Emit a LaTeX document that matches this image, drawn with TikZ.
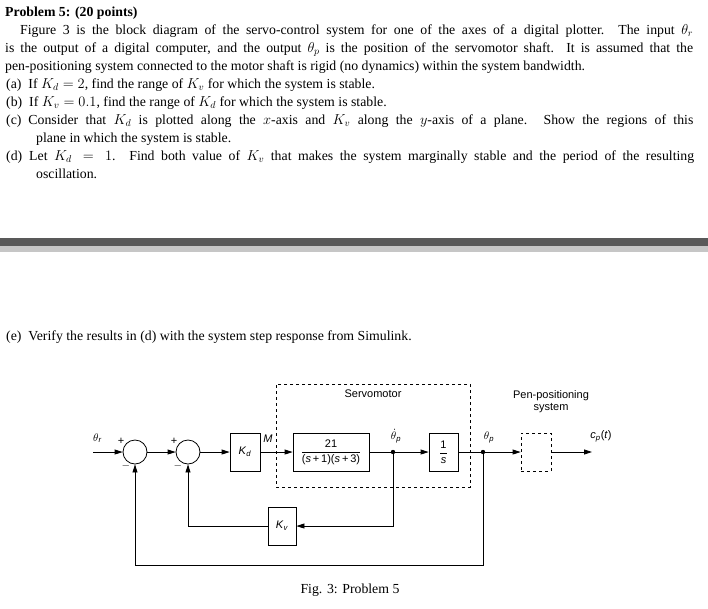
\documentclass[tikz,border=0pt]{standalone}
\usepackage{fontspec}
\setmainfont{Liberation Serif}
\setsansfont{Liberation Sans}
\usepackage{amsmath}
\usetikzlibrary{arrows.meta}
\newcommand{\vi}[1]{\textit{#1}}
\begin{document}
\begin{tikzpicture}[x=1pt,y=-1pt,
  txt/.style={anchor=base west,inner sep=0pt,font=\fontsize{13.8}{15}\selectfont},
  blk/.style={draw,line width=0.8pt,minimum width=#1,minimum height=38pt,inner sep=0pt,font=\sffamily\fontsize{11}{12}\selectfont},
  sumc/.style={draw,circle,line width=0.8pt,minimum size=24pt,inner sep=0pt},
  lab/.style={font=\sffamily\fontsize{11}{12}\selectfont,inner sep=1pt},
  sig/.style={line width=0.8pt,-{Triangle[length=8pt,width=5pt]}},
  ln/.style={line width=0.8pt},
  dbox/.style={draw,dashed,line width=0.8pt}]
\useasboundingbox (0,0) rectangle (708,608);
\fill[white] (0,0) rectangle (708,608);
% text
\node[txt] (t0) at (5,16) {\textbf{Problem 5: (20 points)}};
\node[txt] (t1) at (20,34) {\makebox[673pt][s]{Figure 3 is the block diagram of the servo-control system for one of the axes of a digital plotter. The input $\theta_r$}};
\node[txt] (t2) at (5,52) {\makebox[688pt][s]{is the output of a digital computer, and the output $\theta_p$ is the position of the servomotor shaft. It is assumed that the}};
\node[txt] (t3) at (5,70) {pen-positioning system connected to the motor shaft is rigid (no dynamics) within the system bandwidth.};
\node[txt] (t4) at (6,88) {(a)\enspace If $K_d=2$, find the range of $K_v$ for which the system is stable.};
\node[txt] (t5) at (6,106) {(b)\enspace If $K_v=0.1$, find the range of $K_d$ for which the system is stable.};
\node[txt] (t6) at (6,124) {(c)\enspace\makebox[665pt][s]{Consider that $K_d$ is plotted along the $x$-axis and $K_v$ along the $y$-axis of a plane. Show the regions of this}};
\node[txt] (t7) at (36,142) {plane in which the system is stable.};
\node[txt] (t8) at (6,160) {(d)\enspace\makebox[665pt][s]{Let $K_d=1$. Find both value of $K_v$ that makes the system marginally stable and the period of the resulting}};
\node[txt] (t9) at (36,178) {oscillation.};
\fill[gray!70!black] (0,238) rectangle (708,252);
\fill[gray!45] (0,246) rectangle (708,252);
\node[txt] (te) at (6,340) {(e)\enspace Verify the results in (d) with the system step response from Simulink.};
\node[txt,anchor=base] (cap) at (350,593) {Fig. 3: Problem 5};
% diagram
\node[dbox,minimum width=194pt,minimum height=103pt,inner sep=0pt] (servo) at (373,435.5) {};
\node[lab,anchor=north] (servol) at (373,389) {Servomotor};
\node[lab,align=center,anchor=north] (penl) at (551,389) {Pen-positioning\\[0pt]system};
\coordinate (in) at (93,452);
\node[lab,anchor=south west] (thr) at (92,444) {$\theta$\textsubscript{\vi{r}}};
\node[sumc] (s1) at (135,452) {};
\node[sumc] (s2) at (188,452) {};
\node[blk=30pt] (kd) at (245,452) {\vi{K}\textsubscript{\vi{d}}};
\node[blk=76pt] (g) at (331,452) {$\dfrac{\text{21}}{\text{(\vi{s}\,+\,1)(\vi{s}\,+\,3)}}$};
\node[blk=29pt] (int) at (443.5,452) {$\dfrac{\text{1}}{\text{\vi{s}}}$};
\node[dbox,minimum width=30pt,minimum height=38pt,inner sep=0pt] (pen) at (536,452) {};
\coordinate (out) at (592,452);
\node[lab,anchor=south] (cpl) at (601,443) {\vi{c}\textsubscript{\vi{p}}(\vi{t})};
\coordinate (d1) at (393,452);
\coordinate (d2) at (483,452);
\fill (d1) circle (2.2pt);
\fill (d2) circle (2.2pt);
\node[lab,anchor=south] (thpd) at (396,444) {$\dot\theta$\textsubscript{\vi{p}}};
\node[lab,anchor=south] (thp) at (489,444) {$\theta$\textsubscript{\vi{p}}};
\node[lab,anchor=south] (ml) at (268,444) {\vi{M}};
\node[blk=28pt] (kv) at (282,526) {\vi{K}\textsubscript{\vi{v}}};
\node[lab] (p1) at (121,441) {+};
\node[lab] (m1) at (126,466) {$-$};
\node[lab] (p2) at (174,441) {+};
\node[lab] (m2) at (178,466) {$-$};
\draw[sig] (in) -- (s1);
\draw[sig] (s1) -- (s2);
\draw[sig] (s2) -- (kd);
\draw[sig] (kd) -- (g);
\draw[ln] (g) -- (d1);
\draw[sig] (d1) -- (int);
\draw[ln] (int) -- (d2);
\draw[sig] (d2) -- (pen);
\draw[sig] (pen) -- (out);
\draw[sig] (d1) |- (kv);
\draw[sig] (kv) -| (s2);
\draw[sig] (d2) |- (135,565) -- (s1);
\end{tikzpicture}
\end{document}
